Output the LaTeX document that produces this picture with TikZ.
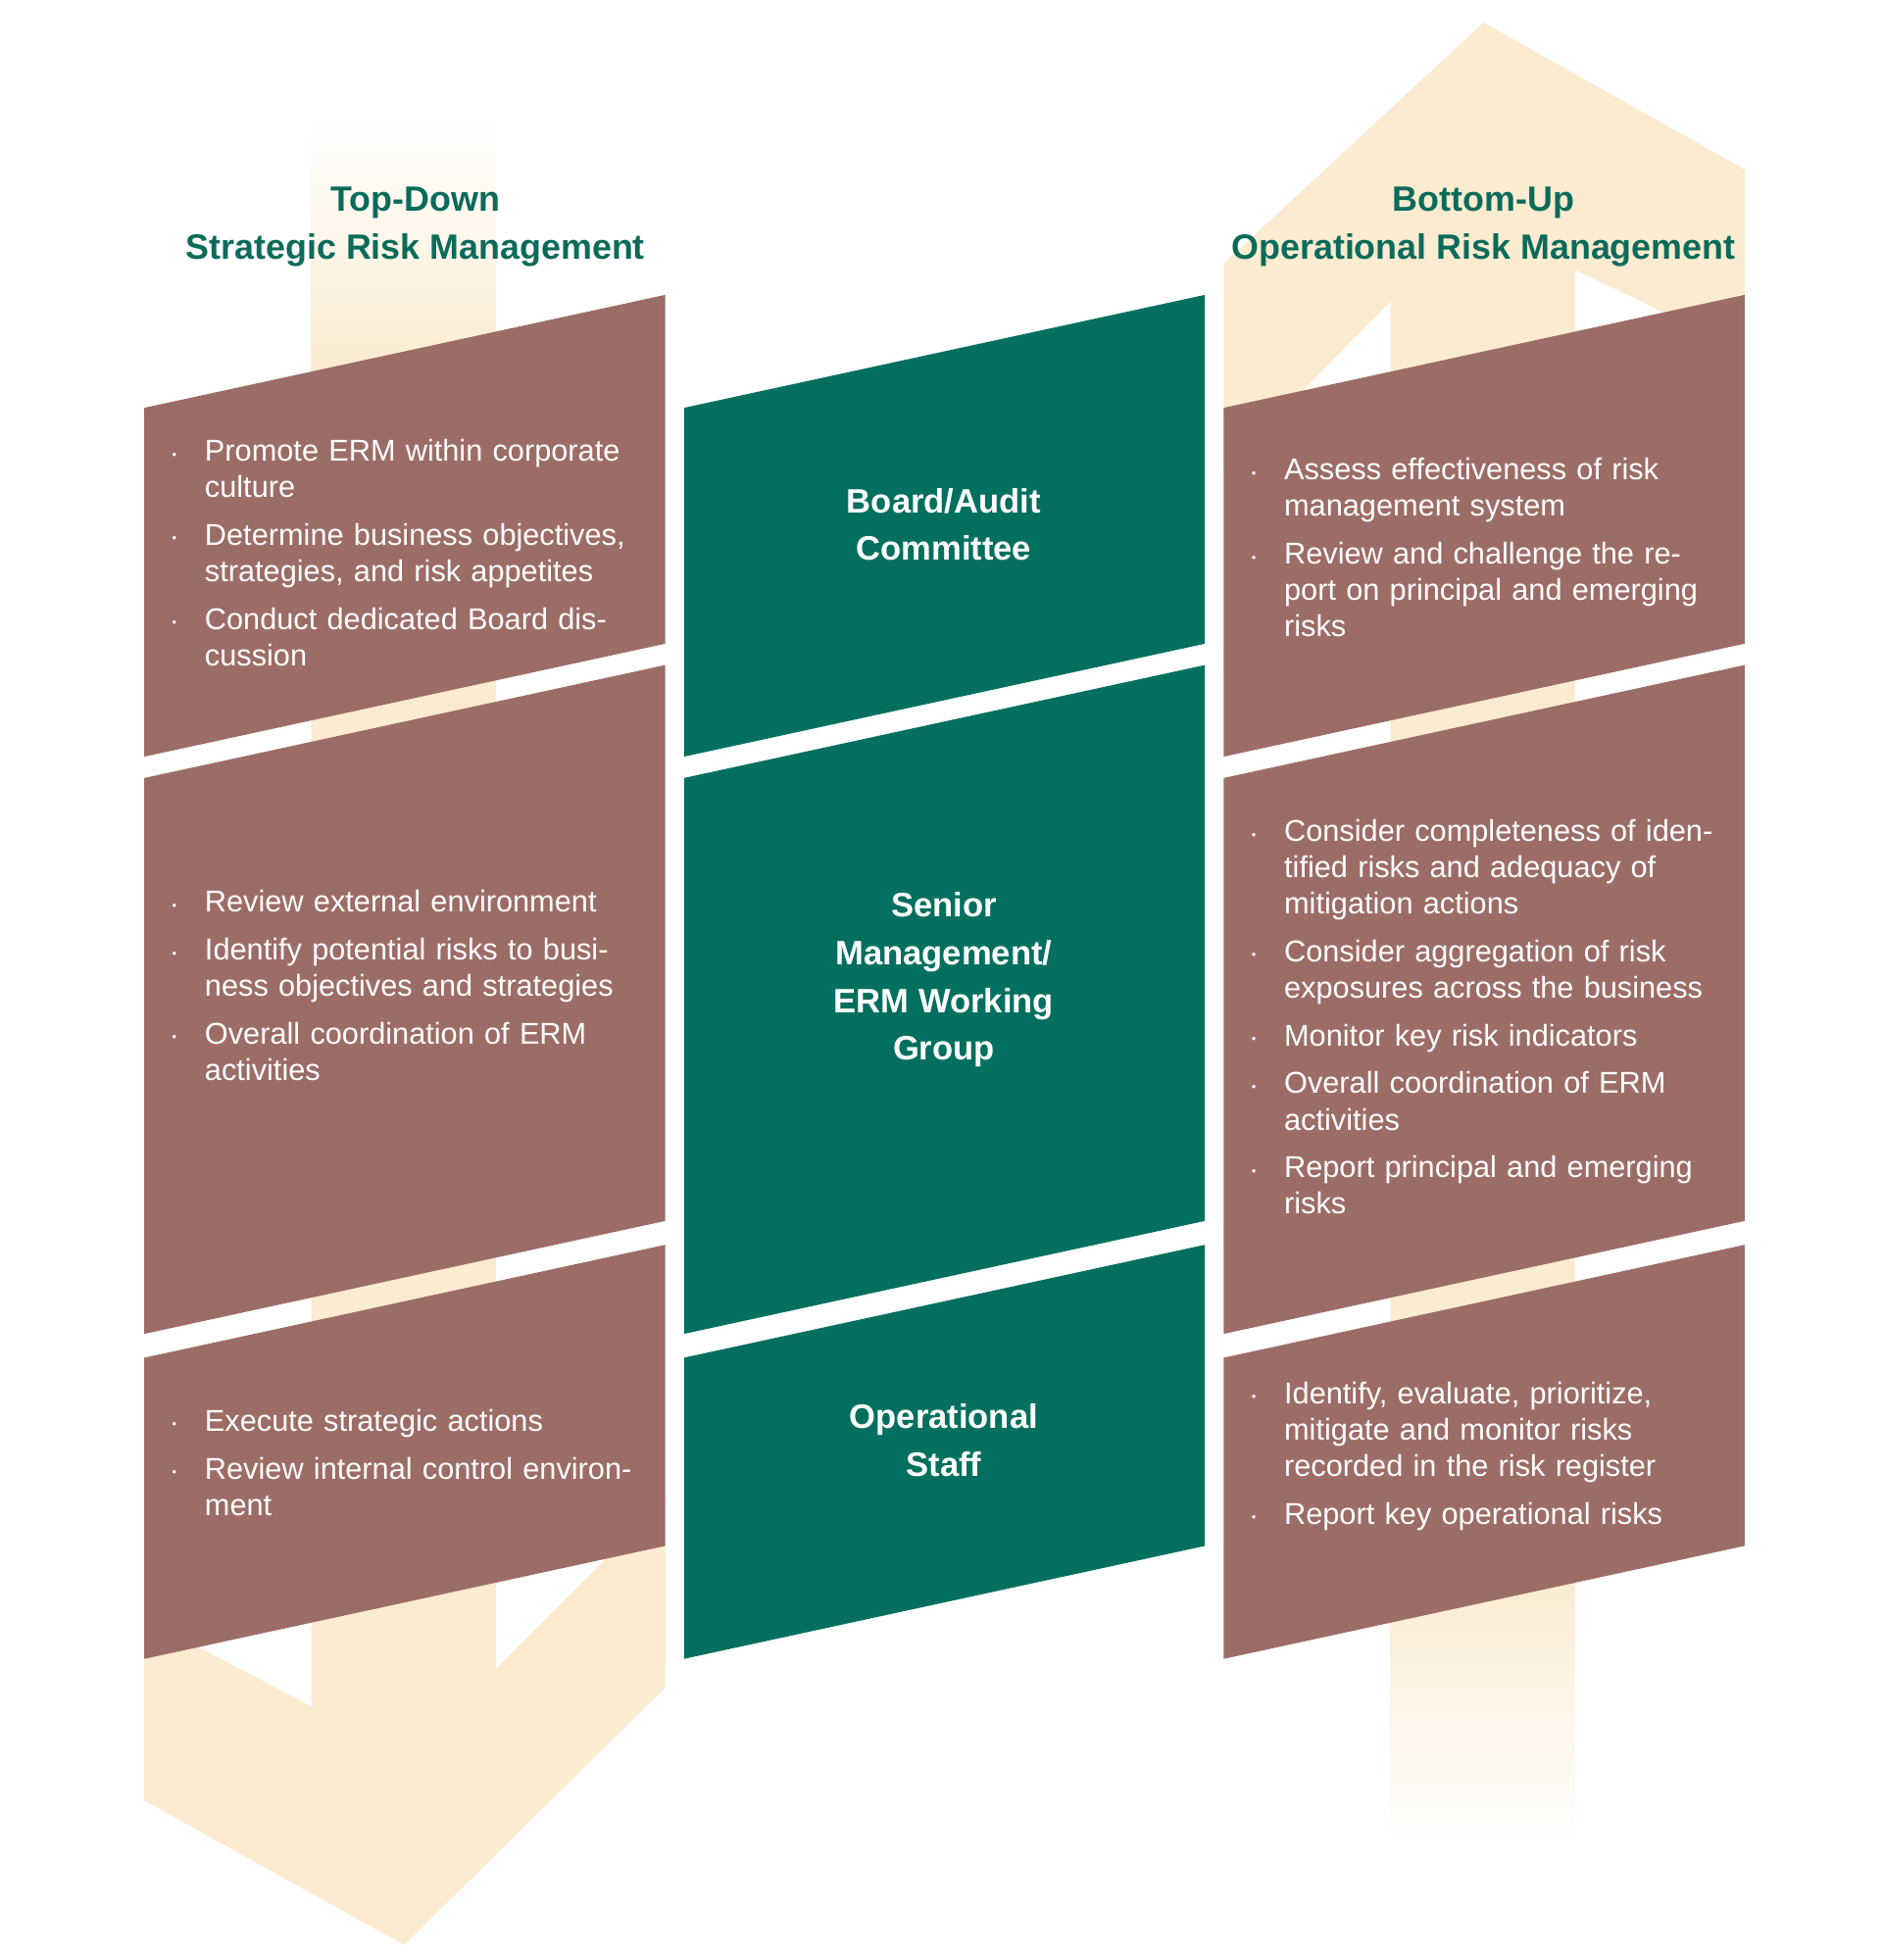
\documentclass[tikz,border=0pt]{standalone}
\usepackage{fontspec}
\setmainfont{Liberation Sans}
\usetikzlibrary{positioning}
\definecolor{riskBrown}{HTML}{9C6D67}
\definecolor{riskGreen}{HTML}{03705F}
\definecolor{riskCream}{HTML}{FBEBD0}
\definecolor{titleGreen}{HTML}{0B6B5A}
\newcommand{\bitem}[1]{\hangindent=26pt\hangafter=1\noindent\makebox[26pt][l]{\raisebox{2pt}{\fontsize{10}{10}\selectfont\textbullet}}#1\par\vspace{9pt}}
\tikzset{%
  listText/.style={anchor=west, text=white, align=left, text width=370pt, inner sep=0pt, font=\fontsize{24}{29}\selectfont},
  roleText/.style={text=white, align=center, font=\fontsize{27}{38}\selectfont\bfseries},
  headText/.style={text=titleGreen, align=center, font=\fontsize{28}{38}\selectfont\bfseries},
}
\begin{document}
\begin{tikzpicture}[x=1pt,y=-1pt]
    \useasboundingbox (0,0) rectangle (1500,1562);
    % top-down arrow
    \fill[riskCream] (248,300) -- (395,300) -- (395,1330) -- (530,1195) -- (530,1345) -- (322,1550) -- (115,1435) -- (115,1290) -- (248,1360) -- cycle;
    \shade[top color=white, bottom color=riskCream] (248,95) rectangle (395,301);
    % bottom-up arrow
    \fill[riskCream] (1108,1250) -- (1108,240) -- (975,375) -- (975,210) -- (1182,18) -- (1390,135) -- (1390,280) -- (1255,215) -- (1255,1250) -- cycle;
    \shade[top color=riskCream, bottom color=white] (1108,1249) rectangle (1255,1470);
    % blocks
    \foreach \x/\c in {115/riskBrown,545/riskGreen,975/riskBrown}
      \foreach \t/\b in {325/603,620/1063,1082/1322}
        \fill[\c] (\x,\t) -- (\x+415,\t-90) -- (\x+415,\b-90) -- (\x,\b) -- cycle;

    \node[headText] (topdown) at (331,181) {Top-Down\\Strategic Risk Management};
    \node[headText] (bottomup) at (1182,181) {Bottom-Up\\Operational Risk Management};

    \node[roleText] (board) at (752,418) {Board/Audit\\Committee};
    \node[roleText] (senior) at (752,781) {Senior\\Management/\\ERM Working\\Group};
    \node[roleText] (staff) at (752,1148) {Operational\\Staff};

    \node[listText] (boardTD) at (137,445) {\bitem{Promote ERM within corporate culture}\bitem{Determine business objectives, strategies, and risk appetites}\bitem{Conduct dedicated Board discussion}};
    \node[listText] (seniorTD) at (137,790) {\bitem{Review external environment}\bitem{Identify potential risks to business objectives and strategies}\bitem{Overall coordination of ERM activities}};
    \node[listText] (staffTD) at (137,1170) {\bitem{Execute strategic actions}\bitem{Review internal control environment}};

    \node[listText] (boardBU) at (997,441) {\bitem{Assess effectiveness of risk management system}\bitem{Review and challenge the report on principal and emerging risks}};
    \node[listText] (seniorBU) at (997,815) {\bitem{Consider completeness of identified risks and adequacy of mitigation actions}\bitem{Consider aggregation of risk exposures across the business}\bitem{Monitor key risk indicators}\bitem{Overall coordination of ERM activities}\bitem{Report principal and emerging risks}};
    \node[listText] (staffBU) at (997,1165) {\bitem{Identify, evaluate, prioritize, mitigate and monitor risks recorded in the risk register}\bitem{Report key operational risks}};
\end{tikzpicture}
\end{document}
